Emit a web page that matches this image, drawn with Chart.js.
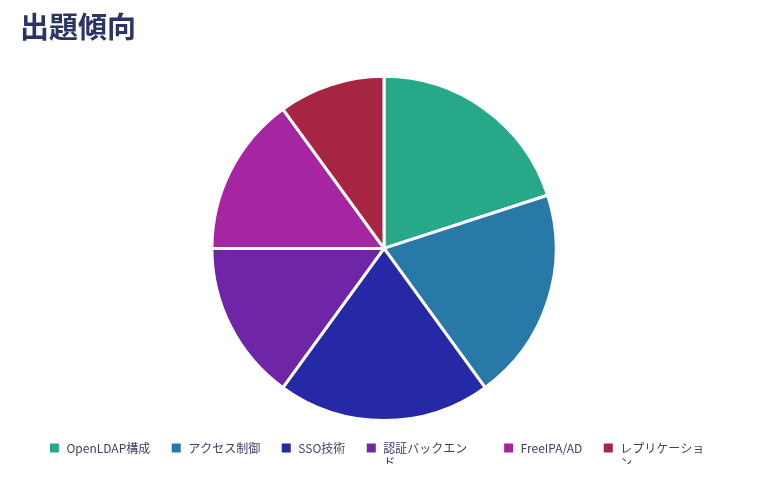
<!DOCTYPE html>
<html><head><meta charset="utf-8">
<script src="https://cdn.jsdelivr.net/npm/chart.js@4"></script>
<style>html,body{margin:0;padding:0;background:#fff}#w{width:768px;height:488px}</style>
</head><body><div id="w"><canvas id="c"></canvas></div>
<script>
const categories = ['OpenLDAP構成','アクセス制御','SSO技術',['認証バックエン','ド'],'FreeIPA/AD',['レプリケーショ','ン']];
const values = [20,20,20,15,15,10];
const colors = ['#26a889','#2878a8','#2529a6','#6e25a6','#a625a0','#a62543'];
new Chart(document.getElementById('c'),{
  type:'pie',
  data:{labels:categories,datasets:[{data:values,backgroundColor:colors,borderColor:'#fff',borderWidth:3}]},
  options:{responsive:true,maintainAspectRatio:false,animation:false,
    layout:{padding:{left:20,right:20,top:4,bottom:24}},
    plugins:{
      title:{display:true,text:'出題傾向',align:'start',color:'#2a3566',
        font:{size:29,weight:'bold',family:'"Noto Sans CJK JP"'},padding:{top:6,bottom:30}},
      legend:{position:'bottom',labels:{color:'#3b3f6b',boxWidth:12,boxHeight:12,padding:20,
        font:{size:12,family:'"Noto Sans CJK JP"'}}},
      tooltip:{enabled:false}
    }}
});
</script></body></html>
